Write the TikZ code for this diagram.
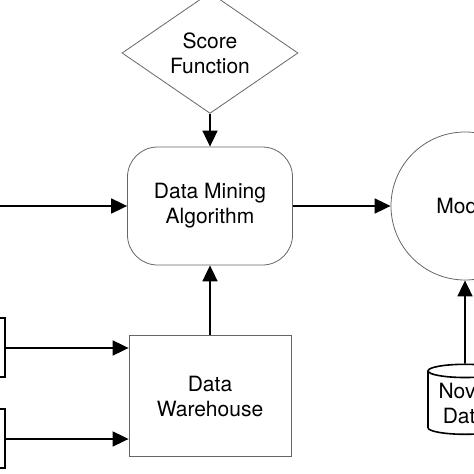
\documentclass[tikz,border=0pt]{standalone}
\usepackage{fontspec}
\setmainfont{TeX Gyre Heros}
\usetikzlibrary{arrows.meta}
\usetikzlibrary{shapes.geometric}

\begin{document}
\begin{tikzpicture}[x=1pt, y=-1pt,
  box/.style={draw=black!60, line width=0.8pt, align=center, inner sep=0pt,
    font=\fontsize{21}{25}\selectfont},
  store/.style={cylinder, shape border rotate=90, draw, line width=1.6pt, aspect=0.25,
    minimum width=74pt, minimum height=70pt, align=center, inner sep=0pt,
    font=\fontsize{21}{25}\selectfont},
  flow/.style={black, line width=1.8pt, -{Triangle[length=16pt,width=15pt]}}]
\clip (0,0) rectangle (474,474);
\node[box, diamond, minimum width=176pt, minimum height=106pt] (score) at (210,53) {Score\\Function};
\node[box, rectangle, rounded corners=30pt, minimum width=165pt, minimum height=118pt] (algo) at (210,206) {Data Mining\\Algorithm};
\node[box, rectangle, minimum width=162pt, minimum height=121pt] (whouse) at (210,396) {Data\\Warehouse};
\node[box, circle, minimum size=148pt] (model) at (465,206) {Model};
\node[store] (novel) at (465,403) {Novel\\Data};
\foreach \y [count=\i] in {348,439} {
 \node[store, minimum height=59pt] (src\i) at (-32,\y) {};
 \draw[flow] (src\i.east) -- (src\i.east -| whouse.west);
}
\coordinate (left) at (-5,206);
\draw[flow] (left) -- (algo.west);
\draw[flow] (score.south) -- (algo.north);
\draw[flow] (whouse.north) -- (algo.south);
\draw[flow] (algo.east) -- (model.west);
\draw[flow] (novel.north) -- (model.south);
\end{tikzpicture}
\end{document}
